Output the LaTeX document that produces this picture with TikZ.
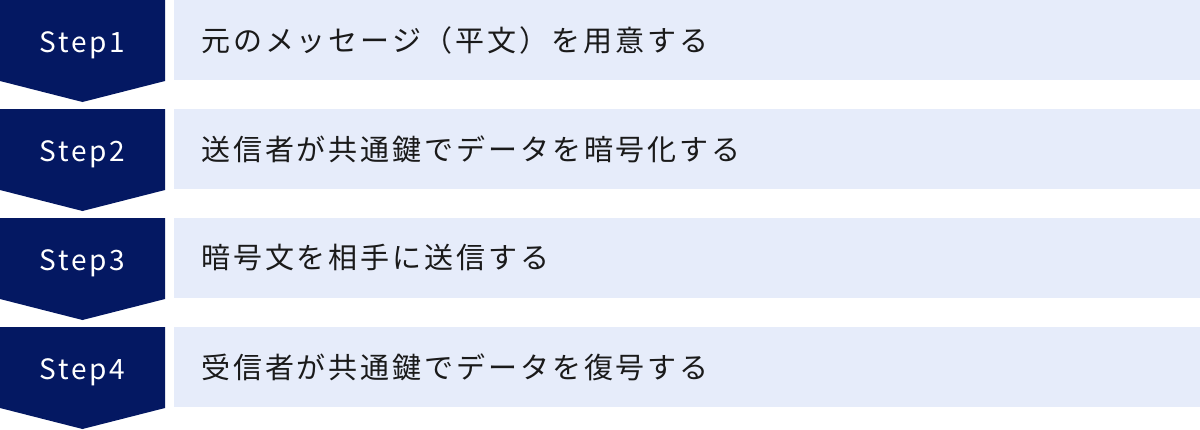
\documentclass[tikz,border=0pt]{standalone}
\usepackage{fontspec}
\setmainfont{Noto Sans CJK JP}[LetterSpace=10]
\definecolor{navy}{HTML}{041862}
\definecolor{pale}{HTML}{E6ECFA}
\definecolor{ink}{HTML}{1A1A1A}
\begin{document}
\begin{tikzpicture}[x=1pt,y=-1pt,
  stepshape/.style={fill=navy,draw=none},
  palebox/.style={fill=pale,draw=none},
  steplabel/.style={text=white,font=\fontsize{28}{32}\selectfont,inner sep=0pt,anchor=base},
  desclabel/.style={text=ink,font=\fontsize{29}{34}\selectfont,inner sep=0pt,anchor=west}]
\useasboundingbox (0,0) rectangle (1200,429);
\foreach \i/\s/\t in {0/Step1/元のメッセージ（平文）を用意する,
                      1/Step2/送信者が共通鍵でデータを暗号化する,
                      2/Step3/暗号文を相手に送信する,
                      3/Step4/受信者が共通鍵でデータを復号する}{
  \pgfmathsetmacro{\top}{109*\i}
  \fill[stepshape] (0,\top) -- (165,\top) -- (165,\top+81) -- (82.5,\top+102) -- (0,\top+81) -- cycle;
  \fill[palebox] (174,\top) rectangle (1200,\top+80);
  \node[steplabel] (s\i) at (82.5,\top+52.5) {\s};
  \node[desclabel] (d\i) at (201,\top+40) {\t};
}
\end{tikzpicture}
\end{document}
